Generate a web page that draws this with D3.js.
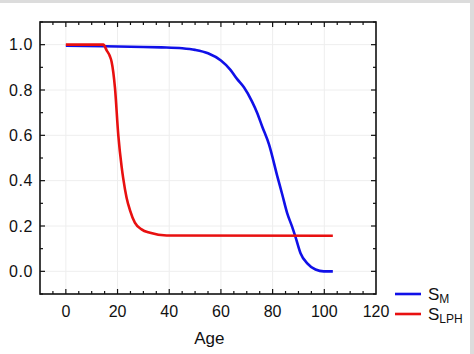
<!DOCTYPE html>
<html>
<head>
<meta charset="utf-8">
<script src="https://cdn.jsdelivr.net/npm/d3@7"></script>
<style>
  body { margin: 0; background: #fff; }
  text { font-family: "Liberation Sans", Arial, sans-serif; fill: #111; }
</style>
</head>
<body>
<div id="chart"></div>
<script>
// survival curves S_M and S_LPH vs age

const ageM = [0, 15, 30, 37, 45, 50, 55, 60, 63.6, 66.3, 68.9, 72, 74, 76, 78.6, 81.8, 83.7, 85.6, 87.6, 88.9, 90.8, 93.4, 96.6, 99.8, 103.3];
const valM = [0.995, 0.993, 0.99, 0.988, 0.984, 0.977, 0.962, 0.93, 0.89, 0.848, 0.812, 0.75, 0.70, 0.638, 0.56, 0.42, 0.34, 0.258, 0.195, 0.15, 0.08, 0.035, 0.008, 0.0, 0.0];

const ageLPH = [0, 14.5, 15.8, 17, 17.7, 19, 20.3, 21.6, 22.2, 23.5, 24.8, 26.7, 29.3, 32.6, 39, 103.3];
const valLPH = [1.0, 1.0, 0.975, 0.95, 0.925, 0.81, 0.60, 0.46, 0.41, 0.325, 0.27, 0.215, 0.185, 0.17, 0.158, 0.157];

const xTicks = [0, 20, 40, 60, 80, 100, 120];
const yTicks = [0.0, 0.2, 0.4, 0.6, 0.8, 1.0];

const W = 474, H = 354;
const margin = {top: 22, right: 98, bottom: 60, left: 40},
      width = W - margin.left - margin.right,
      height = H - margin.top - margin.bottom;

const root = d3.select("#chart").append("svg")
    .attr("width", W)
    .attr("height", H);

// grey frame strips of the original picture
root.append("rect").attr("x", 0).attr("y", 0).attr("width", W).attr("height", 3).attr("fill", "#dcdcdc");
root.append("rect").attr("x", 470).attr("y", 0).attr("width", 4).attr("height", H).attr("fill", "#dcdcdc");

const svg = root.append("g")
    .attr("transform", `translate(${margin.left},${margin.top})`);

const x = d3.scaleLinear().domain([-10, 120]).range([0, width]);
const y = d3.scaleLinear().domain([-0.1, 1.1]).range([height, 0]);

// grid
svg.selectAll(".gx").data(xTicks.filter(d => d < 120)).enter().append("line")
    .attr("x1", d => x(d)).attr("x2", d => x(d))
    .attr("y1", 0).attr("y2", height)
    .attr("stroke", "#eeeeee").attr("stroke-width", 1);
svg.selectAll(".gy").data(yTicks).enter().append("line")
    .attr("x1", 0).attr("x2", width)
    .attr("y1", d => y(d)).attr("y2", d => y(d))
    .attr("stroke", "#eeeeee").attr("stroke-width", 1);

// ticks on all four sides, pointing inward; majors a bit longer
const xMinor = d3.range(-5, 120, 5);
const yMinor = d3.range(-0.1, 1.1001, 0.1);
const isMajX = d => d % 20 === 0;
const isMajY = d => Math.abs(Math.round(d * 10) % 2) === 0;

[0, height].forEach(edge => {
  const dir = edge === 0 ? 1 : -1;
  svg.selectAll(null).data(xMinor).enter().append("line")
      .attr("x1", d => x(d)).attr("x2", d => x(d))
      .attr("y1", edge).attr("y2", d => edge + dir * (isMajX(d) ? 5 : 3))
      .attr("stroke", "#111").attr("stroke-width", 1.2);
});
[0, width].forEach(edge => {
  const dir = edge === 0 ? 1 : -1;
  svg.selectAll(null).data(yMinor).enter().append("line")
      .attr("y1", d => y(d)).attr("y2", d => y(d))
      .attr("x1", edge).attr("x2", d => edge + dir * (isMajY(d) ? 5 : 3))
      .attr("stroke", "#111").attr("stroke-width", 1.2);
});

// frame
svg.append("rect")
    .attr("width", width).attr("height", height)
    .attr("fill", "none").attr("stroke", "#111").attr("stroke-width", 1.6);

// tick labels
svg.selectAll(".xl").data(xTicks).enter().append("text")
    .attr("x", d => x(d)).attr("y", height + 23)
    .attr("text-anchor", "middle").style("font-size", "16px")
    .text(d => d);
svg.selectAll(".yl").data(yTicks).enter().append("text")
    .attr("x", -7).attr("y", d => y(d) + 5.5)
    .attr("text-anchor", "end").style("font-size", "16px")
    .style("letter-spacing", "0.6px")
    .text(d => d.toFixed(1));

svg.append("text")
    .attr("x", x(55.5)).attr("y", height + 50)
    .attr("text-anchor", "middle").style("font-size", "17px")
    .text("Age");

// curves
const line = d3.line().curve(d3.curveMonotoneX).x(d => x(d[0])).y(d => y(d[1]));
svg.append("path")
    .datum(ageM.map((a, i) => [a, valM[i]]))
    .attr("d", line).attr("fill", "none")
    .attr("stroke", "#1010e8").attr("stroke-width", 2.6);
svg.append("path")
    .datum(ageLPH.map((a, i) => [a, valLPH[i]]))
    .attr("d", line).attr("fill", "none")
    .attr("stroke", "#e81010").attr("stroke-width", 2.6);

// legend
const legend = root.append("g");
const items = [["M", "#1010e8", 294], ["LPH", "#e81010", 314]];
items.forEach(([sub, col, ly]) => {
  legend.append("line").attr("x1", 395).attr("x2", 421).attr("y1", ly).attr("y2", ly)
      .attr("stroke", col).attr("stroke-width", 2.6);
  const t = legend.append("text").attr("x", 428).attr("y", ly + 6).style("font-size", "17px");
  t.append("tspan").text("S");
  t.append("tspan").attr("dy", 3).style("font-size", "12px").text(sub);
});
</script>
</body>
</html>
